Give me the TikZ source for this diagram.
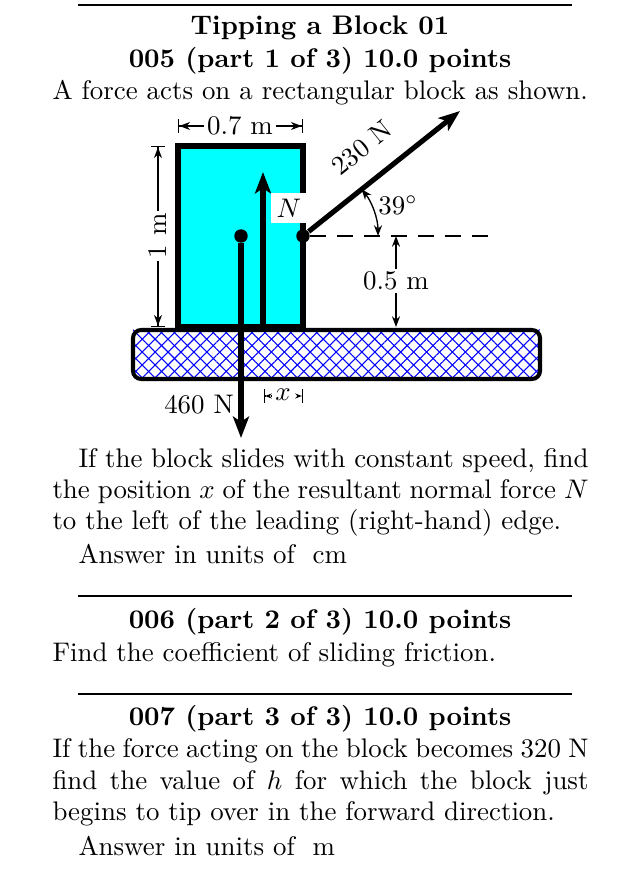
\documentclass[tikz,border=0pt]{standalone}
\usetikzlibrary{arrows.meta,patterns.meta}
\definecolor{blockcyan}{rgb}{0,1,1}
\begin{document}
\begin{tikzpicture}[x=0.372pt,y=-0.372pt,
  force/.style={line width=1.9pt,-{Stealth[length=8pt,width=6pt,inset=2pt]}},
  dim/.style={line width=0.5pt,{Bar[width=5pt]Stealth[length=4pt]}-{Stealth[length=4pt]Bar[width=5pt]}},
  dimb/.style={line width=0.5pt,{Stealth[length=4pt]}-{Stealth[length=4pt]}},
  txt/.style={anchor=west,inner sep=0pt},
  lbl/.style={fill=white,inner sep=1pt},
  dot/.style={circle,fill=black,inner sep=0pt,minimum size=5pt}]
\useasboundingbox (0,0) rectangle (641,882);
% header
\draw[line width=1.1pt] (78,5) -- (572,5);
\node[font=\bfseries] (title) at (320,28) {Tipping a Block 01};
\node[font=\bfseries] (q1) at (320,61) {005 (part 1 of 3) 10.0 points};
\node[txt] (l0) at (52,93) {A force acts on a rectangular block as shown.};
% ground
\fill[white,rounded corners=3pt] (133,330) rectangle (540,379);
\fill[pattern={Lines[angle=45,distance=3.4pt,line width=0.4pt]},pattern color=blue] (133,330) rectangle (540,379);
\fill[pattern={Lines[angle=-45,distance=3.4pt,line width=0.4pt]},pattern color=blue] (133,330) rectangle (540,379);
\draw[line width=1.5pt,rounded corners=3pt] (133,330) rectangle (540,379);
% block
\draw[line width=1.9pt,fill=blockcyan] (178,146) rectangle (303,327);
\node[dot] (c) at (241,236) {};
\node[dot] (p) at (303,236) {};
% N arrow
\coordinate (nb) at (263,327); \coordinate (nt) at (263,172);
\draw[force] (nb) -- (nt);
\node[fill=white,inner sep=2pt] (Nl) at (289,208) {$N$};
% weight
\coordinate (wt) at (241,438);
\draw[force] (c) -- (wt);
\node (wl) at (199,405) {460 N};
% applied force
\coordinate (ft) at (460,111);
\draw[force] (p) -- (ft);
\node[rotate=38.7] (fl) at (362,148) {230 N};
\coordinate (de) at (488,236);
\draw[line width=0.6pt,dash pattern=on 6pt off 4pt] (p) -- (de);
\draw[line width=0.5pt,{Stealth[length=4pt]}-{Stealth[length=4pt]}] (378,236) arc[start angle=0,end angle=-38.7,radius=75];
\node (al) at (398,205) {$39^\circ$};
% 0.5 m
\coordinate (h1) at (396,236); \coordinate (h2) at (396,327);
\draw[dimb] (h1) -- (h2);
\node[lbl] (hl) at (396,281) {0.5 m};
% 1 m
\coordinate (v1) at (158,146); \coordinate (v2) at (158,327);
\draw[dim] (v1) -- (v2);
\node[lbl,rotate=90] (vl) at (158,236) {1 m};
% 0.7 m
\coordinate (w1) at (178,126); \coordinate (w2) at (303,126);
\draw[dim] (w1) -- (w2);
\node[lbl] (wl2) at (240,126) {0.7 m};
% x
\coordinate (x1) at (264,396); \coordinate (x2) at (303,396);
\draw[line width=0.4pt,dotted,{Bar[width=5pt]Stealth[length=2.5pt]}-{Stealth[length=2.5pt]Bar[width=5pt]}] (x1) -- (x2);
\node[lbl] (xl) at (283,395) {$x$};
% text part 1
\node[txt] (t1) at (78,461) {\makebox[189.7pt][s]{If the block slides with constant speed, find}};
\node[txt] (t2) at (52,492) {\makebox[199.4pt][s]{the position $x$ of the resultant normal force $N$}};
\node[txt] (t3) at (52,523) {to the left of the leading (right-hand) edge.};
\node[txt] (t4) at (78,554) {Answer in units of \ cm};
\draw[line width=0.4pt] (78,596) -- (572,596);
\node[font=\bfseries] (q2) at (320,622) {006 (part 2 of 3) 10.0 points};
\node[txt] (t5) at (52,655) {Find the coefficient of sliding friction.};
\draw[line width=0.4pt] (78,694) -- (572,694);
\node[font=\bfseries] (q3) at (320,719) {007 (part 3 of 3) 10.0 points};
\node[txt] (t6) at (52,751) {\makebox[199.4pt][s]{If the force acting on the block becomes 320 N}};
\node[txt] (t7) at (52,783) {\makebox[199.4pt][s]{find the value of $h$ for which the block just}};
\node[txt] (t8) at (52,814) {begins to tip over in the forward direction.};
\node[txt] (t9) at (78,846) {Answer in units of \ m};
\end{tikzpicture}
\end{document}
